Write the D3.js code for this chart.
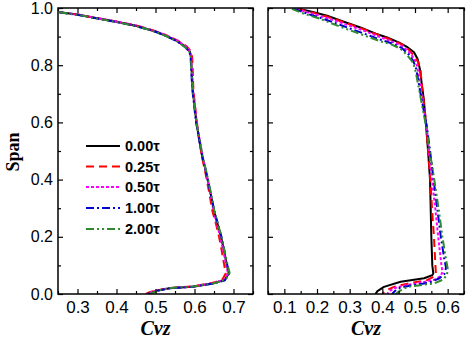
<!DOCTYPE html>
<html>
<head>
<meta charset="utf-8">
<script src="https://cdn.jsdelivr.net/npm/d3@7"></script>
<style>
  html, body { margin: 0; padding: 0; background: #fff; }
  svg { display: block; }
</style>
</head>
<body>
<svg id="chart" width="474" height="339"></svg>
<script>
// Series labels and styles
const seriesNames = ["0.00τ", "0.25τ", "0.50τ", "1.00τ", "2.00τ"];
const seriesColors = ["#000000", "#ff0000", "#ff00ff", "#0000cc", "#2e8b2e"];
const seriesDash = ["", "8,5", "3,2", "8,3,2,3", "8,3,2,3,2,3"];

// Left panel: [Cvz, span]
const left_000 = [[0.254,0.985],[0.30,0.977],[0.34,0.967],[0.40,0.952],[0.45,0.938],[0.50,0.918],[0.527,0.903],[0.555,0.885],[0.578,0.863],[0.588,0.848],[0.591,0.828],[0.592,0.80],[0.595,0.72],[0.600,0.66],[0.605,0.60],[0.612,0.54],[0.620,0.48],[0.629,0.43],[0.640,0.36],[0.650,0.29],[0.660,0.24],[0.668,0.20],[0.676,0.15],[0.684,0.095],[0.688,0.072],[0.677,0.049],[0.646,0.037],[0.595,0.025],[0.536,0.020],[0.505,0.012],[0.490,0.006],[0.478,0.0]];
const left_025 = [[0.254,0.985],[0.30,0.977],[0.34,0.967],[0.40,0.953],[0.45,0.939],[0.50,0.919],[0.527,0.905],[0.556,0.887],[0.580,0.866],[0.590,0.850],[0.594,0.828],[0.595,0.80],[0.597,0.72],[0.601,0.66],[0.606,0.60],[0.612,0.54],[0.619,0.48],[0.627,0.43],[0.637,0.36],[0.646,0.29],[0.656,0.24],[0.663,0.20],[0.670,0.15],[0.677,0.095],[0.680,0.072],[0.672,0.052],[0.650,0.040],[0.598,0.027],[0.536,0.021],[0.500,0.012],[0.485,0.006],[0.475,0.0]];
const left_050 = [[0.254,0.985],[0.30,0.977],[0.34,0.967],[0.40,0.953],[0.45,0.939],[0.50,0.919],[0.527,0.905],[0.556,0.886],[0.579,0.865],[0.589,0.849],[0.592,0.828],[0.593,0.80],[0.596,0.72],[0.601,0.66],[0.606,0.60],[0.613,0.54],[0.621,0.48],[0.629,0.43],[0.639,0.36],[0.649,0.29],[0.658,0.24],[0.666,0.20],[0.674,0.15],[0.682,0.095],[0.686,0.072],[0.676,0.050],[0.648,0.038],[0.596,0.026],[0.536,0.020],[0.503,0.012],[0.488,0.006],[0.477,0.0]];
const left_100 = [[0.254,0.985],[0.30,0.976],[0.34,0.966],[0.40,0.951],[0.45,0.937],[0.50,0.917],[0.527,0.902],[0.555,0.884],[0.577,0.862],[0.587,0.847],[0.590,0.828],[0.591,0.80],[0.594,0.72],[0.599,0.66],[0.604,0.60],[0.612,0.54],[0.620,0.48],[0.629,0.43],[0.640,0.36],[0.651,0.29],[0.661,0.24],[0.669,0.20],[0.677,0.15],[0.685,0.095],[0.689,0.072],[0.678,0.048],[0.646,0.036],[0.594,0.025],[0.536,0.020],[0.507,0.012],[0.492,0.006],[0.480,0.0]];
const left_200 = [[0.254,0.985],[0.30,0.976],[0.34,0.966],[0.40,0.951],[0.45,0.937],[0.50,0.917],[0.527,0.902],[0.555,0.884],[0.577,0.862],[0.587,0.847],[0.591,0.828],[0.592,0.80],[0.595,0.72],[0.600,0.66],[0.605,0.60],[0.613,0.54],[0.621,0.48],[0.630,0.43],[0.641,0.36],[0.651,0.29],[0.661,0.24],[0.669,0.20],[0.677,0.15],[0.686,0.095],[0.690,0.075],[0.680,0.050],[0.648,0.037],[0.596,0.026],[0.538,0.021],[0.510,0.013],[0.496,0.006],[0.485,0.0]];

// Right panel: [Cvz, span]
const right_000 = [[0.146,0.997],[0.190,0.985],[0.231,0.973],[0.280,0.953],[0.333,0.932],[0.380,0.910],[0.415,0.897],[0.450,0.880],[0.477,0.863],[0.497,0.845],[0.508,0.822],[0.516,0.781],[0.520,0.740],[0.527,0.680],[0.533,0.600],[0.540,0.500],[0.546,0.400],[0.548,0.300],[0.550,0.200],[0.553,0.100],[0.556,0.072],[0.553,0.066],[0.528,0.055],[0.456,0.043],[0.405,0.025],[0.385,0.010],[0.379,0.0]];
const right_025 = [[0.142,0.997],[0.185,0.984],[0.230,0.970],[0.290,0.947],[0.340,0.927],[0.390,0.905],[0.425,0.890],[0.460,0.873],[0.482,0.853],[0.498,0.832],[0.510,0.810],[0.517,0.780],[0.522,0.720],[0.528,0.660],[0.534,0.600],[0.540,0.500],[0.547,0.400],[0.552,0.300],[0.558,0.200],[0.562,0.110],[0.564,0.072],[0.560,0.062],[0.538,0.049],[0.480,0.037],[0.436,0.025],[0.410,0.012],[0.400,0.0]];
const right_050 = [[0.138,0.997],[0.180,0.982],[0.228,0.966],[0.290,0.942],[0.345,0.920],[0.400,0.895],[0.435,0.880],[0.465,0.864],[0.485,0.842],[0.498,0.822],[0.507,0.797],[0.512,0.760],[0.520,0.700],[0.528,0.640],[0.536,0.580],[0.543,0.500],[0.552,0.400],[0.562,0.300],[0.571,0.200],[0.580,0.110],[0.584,0.077],[0.578,0.062],[0.560,0.050],[0.520,0.040],[0.470,0.030],[0.435,0.020],[0.420,0.008],[0.415,0.0]];
const right_100 = [[0.130,0.997],[0.170,0.980],[0.220,0.962],[0.280,0.937],[0.340,0.912],[0.395,0.889],[0.430,0.876],[0.460,0.860],[0.480,0.838],[0.493,0.818],[0.502,0.795],[0.508,0.760],[0.517,0.700],[0.527,0.640],[0.537,0.580],[0.546,0.500],[0.557,0.400],[0.568,0.300],[0.579,0.200],[0.590,0.120],[0.595,0.092],[0.590,0.070],[0.575,0.055],[0.545,0.040],[0.490,0.030],[0.455,0.022],[0.438,0.010],[0.430,0.0]];
const right_200 = [[0.123,0.997],[0.160,0.980],[0.210,0.962],[0.270,0.935],[0.333,0.909],[0.390,0.885],[0.425,0.874],[0.455,0.858],[0.477,0.834],[0.490,0.815],[0.499,0.793],[0.505,0.760],[0.515,0.700],[0.525,0.640],[0.535,0.580],[0.545,0.500],[0.559,0.400],[0.572,0.300],[0.584,0.200],[0.595,0.120],[0.600,0.090],[0.598,0.066],[0.585,0.050],[0.559,0.037],[0.510,0.030],[0.477,0.025],[0.455,0.012],[0.441,0.0]];

const leftSeries = [left_000, left_025, left_050, left_100, left_200];
const rightSeries = [right_000, right_025, right_050, right_100, right_200];

// Axis ticks
const leftXTicks = [0.3, 0.4, 0.5, 0.6, 0.7];
const leftXMinor = [0.25, 0.35, 0.45, 0.55, 0.65, 0.75];
const rightXTicks = [0.1, 0.2, 0.3, 0.4, 0.5, 0.6];
const rightXMinor = [0.05, 0.15, 0.25, 0.35, 0.45, 0.55, 0.65];
const yTicks = [0.0, 0.2, 0.4, 0.6, 0.8, 1.0];
const yMinor = [0.1, 0.3, 0.5, 0.7, 0.9];

const svg = d3.select("#chart");
const plotTop = 8, plotBottom = 294;
const yScale = d3.scaleLinear().domain([0, 1]).range([plotBottom, plotTop]);

const panels = [
  { x0: 58, x1: 253, domain: [0.25, 0.75], ticks: leftXTicks, minor: leftXMinor, data: leftSeries, yLabels: true },
  { x0: 268, x1: 464, domain: [0.05, 0.65], ticks: rightXTicks, minor: rightXMinor, data: rightSeries, yLabels: false }
];

const tickFont = "'Liberation Sans', Arial, sans-serif";
const serif = "'Liberation Serif', 'Times New Roman', serif";

panels.forEach(p => {
  const x = d3.scaleLinear().domain(p.domain).range([p.x0, p.x1]);
  const g = svg.append("g");

  // clipped curves
  const clipId = "clip" + p.x0;
  svg.append("clipPath").attr("id", clipId)
    .append("rect").attr("x", p.x0).attr("y", plotTop).attr("width", p.x1 - p.x0).attr("height", plotBottom - plotTop);

  const line = d3.line().x(d => x(d[0])).y(d => yScale(d[1]));
  const curves = g.append("g").attr("clip-path", `url(#${clipId})`);
  p.data.forEach((series, i) => {
    curves.append("path")
      .attr("d", line(series))
      .attr("fill", "none")
      .attr("stroke", seriesColors[i])
      .attr("stroke-width", 2)
      .attr("stroke-dasharray", seriesDash[i] || null)
      .attr("stroke-linejoin", "round");
  });

  // bottom axis (inward ticks)
  const bx = g.append("g").attr("transform", `translate(0,${plotBottom})`)
    .call(d3.axisBottom(x).tickValues(p.ticks).tickSize(-5).tickPadding(7).tickFormat(d3.format(".1f")));
  bx.selectAll("text").attr("font-family", tickFont).attr("font-size", 17).attr("fill", "#000");
  g.append("g").attr("transform", `translate(0,${plotBottom})`)
    .call(d3.axisBottom(x).tickValues(p.minor).tickSize(-3).tickFormat(""));

  // top axis mirror
  g.append("g").attr("transform", `translate(0,${plotTop})`)
    .call(d3.axisTop(x).tickValues(p.ticks).tickSize(-5).tickFormat(""));
  g.append("g").attr("transform", `translate(0,${plotTop})`)
    .call(d3.axisTop(x).tickValues(p.minor).tickSize(-3).tickFormat(""));

  // left axis
  const ly = g.append("g").attr("transform", `translate(${p.x0},0)`)
    .call(d3.axisLeft(yScale).tickValues(yTicks).tickSize(-5).tickPadding(5)
      .tickFormat(p.yLabels ? d3.format(".1f") : ""));
  ly.selectAll("text").attr("font-family", tickFont).attr("font-size", 16).attr("fill", "#000");
  g.append("g").attr("transform", `translate(${p.x0},0)`)
    .call(d3.axisLeft(yScale).tickValues(yMinor).tickSize(-3).tickFormat(""));

  // right axis
  g.append("g").attr("transform", `translate(${p.x1},0)`)
    .call(d3.axisRight(yScale).tickValues(yTicks).tickSize(-5).tickFormat(""));
  g.append("g").attr("transform", `translate(${p.x1},0)`)
    .call(d3.axisRight(yScale).tickValues(yMinor).tickSize(-3).tickFormat(""));

  g.selectAll(".domain").remove();
  g.selectAll(".tick line").attr("stroke", "#000").attr("stroke-width", 1.2);

  // frame
  g.append("rect")
    .attr("x", p.x0).attr("y", plotTop)
    .attr("width", p.x1 - p.x0).attr("height", plotBottom - plotTop)
    .attr("fill", "none").attr("stroke", "#000").attr("stroke-width", 1.5);

  // x title
  g.append("text")
    .attr("x", (p.x0 + p.x1) / 2).attr("y", 335)
    .attr("text-anchor", "middle")
    .attr("font-family", serif).attr("font-weight", "bold").attr("font-style", "italic")
    .attr("font-size", 20)
    .text("Cvz");
});

// y title
svg.append("text")
  .attr("transform", "translate(19,152) rotate(-90)")
  .attr("text-anchor", "middle")
  .attr("font-family", serif).attr("font-weight", "bold")
  .attr("font-size", 18)
  .text("Span");

// legend
const legendRows = [146, 166.5, 187, 208, 229];
const legend = svg.append("g");
seriesNames.forEach((name, i) => {
  legend.append("line")
    .attr("x1", 86).attr("x2", 120)
    .attr("y1", legendRows[i]).attr("y2", legendRows[i])
    .attr("stroke", seriesColors[i]).attr("stroke-width", 2)
    .attr("stroke-dasharray", seriesDash[i] || null);
  legend.append("text")
    .attr("x", 125).attr("y", legendRows[i])
    .attr("dy", "0.35em")
    .attr("font-family", tickFont).attr("font-weight", "bold")
    .attr("font-size", 14.5)
    .text(name);
});
</script>
</body>
</html>
